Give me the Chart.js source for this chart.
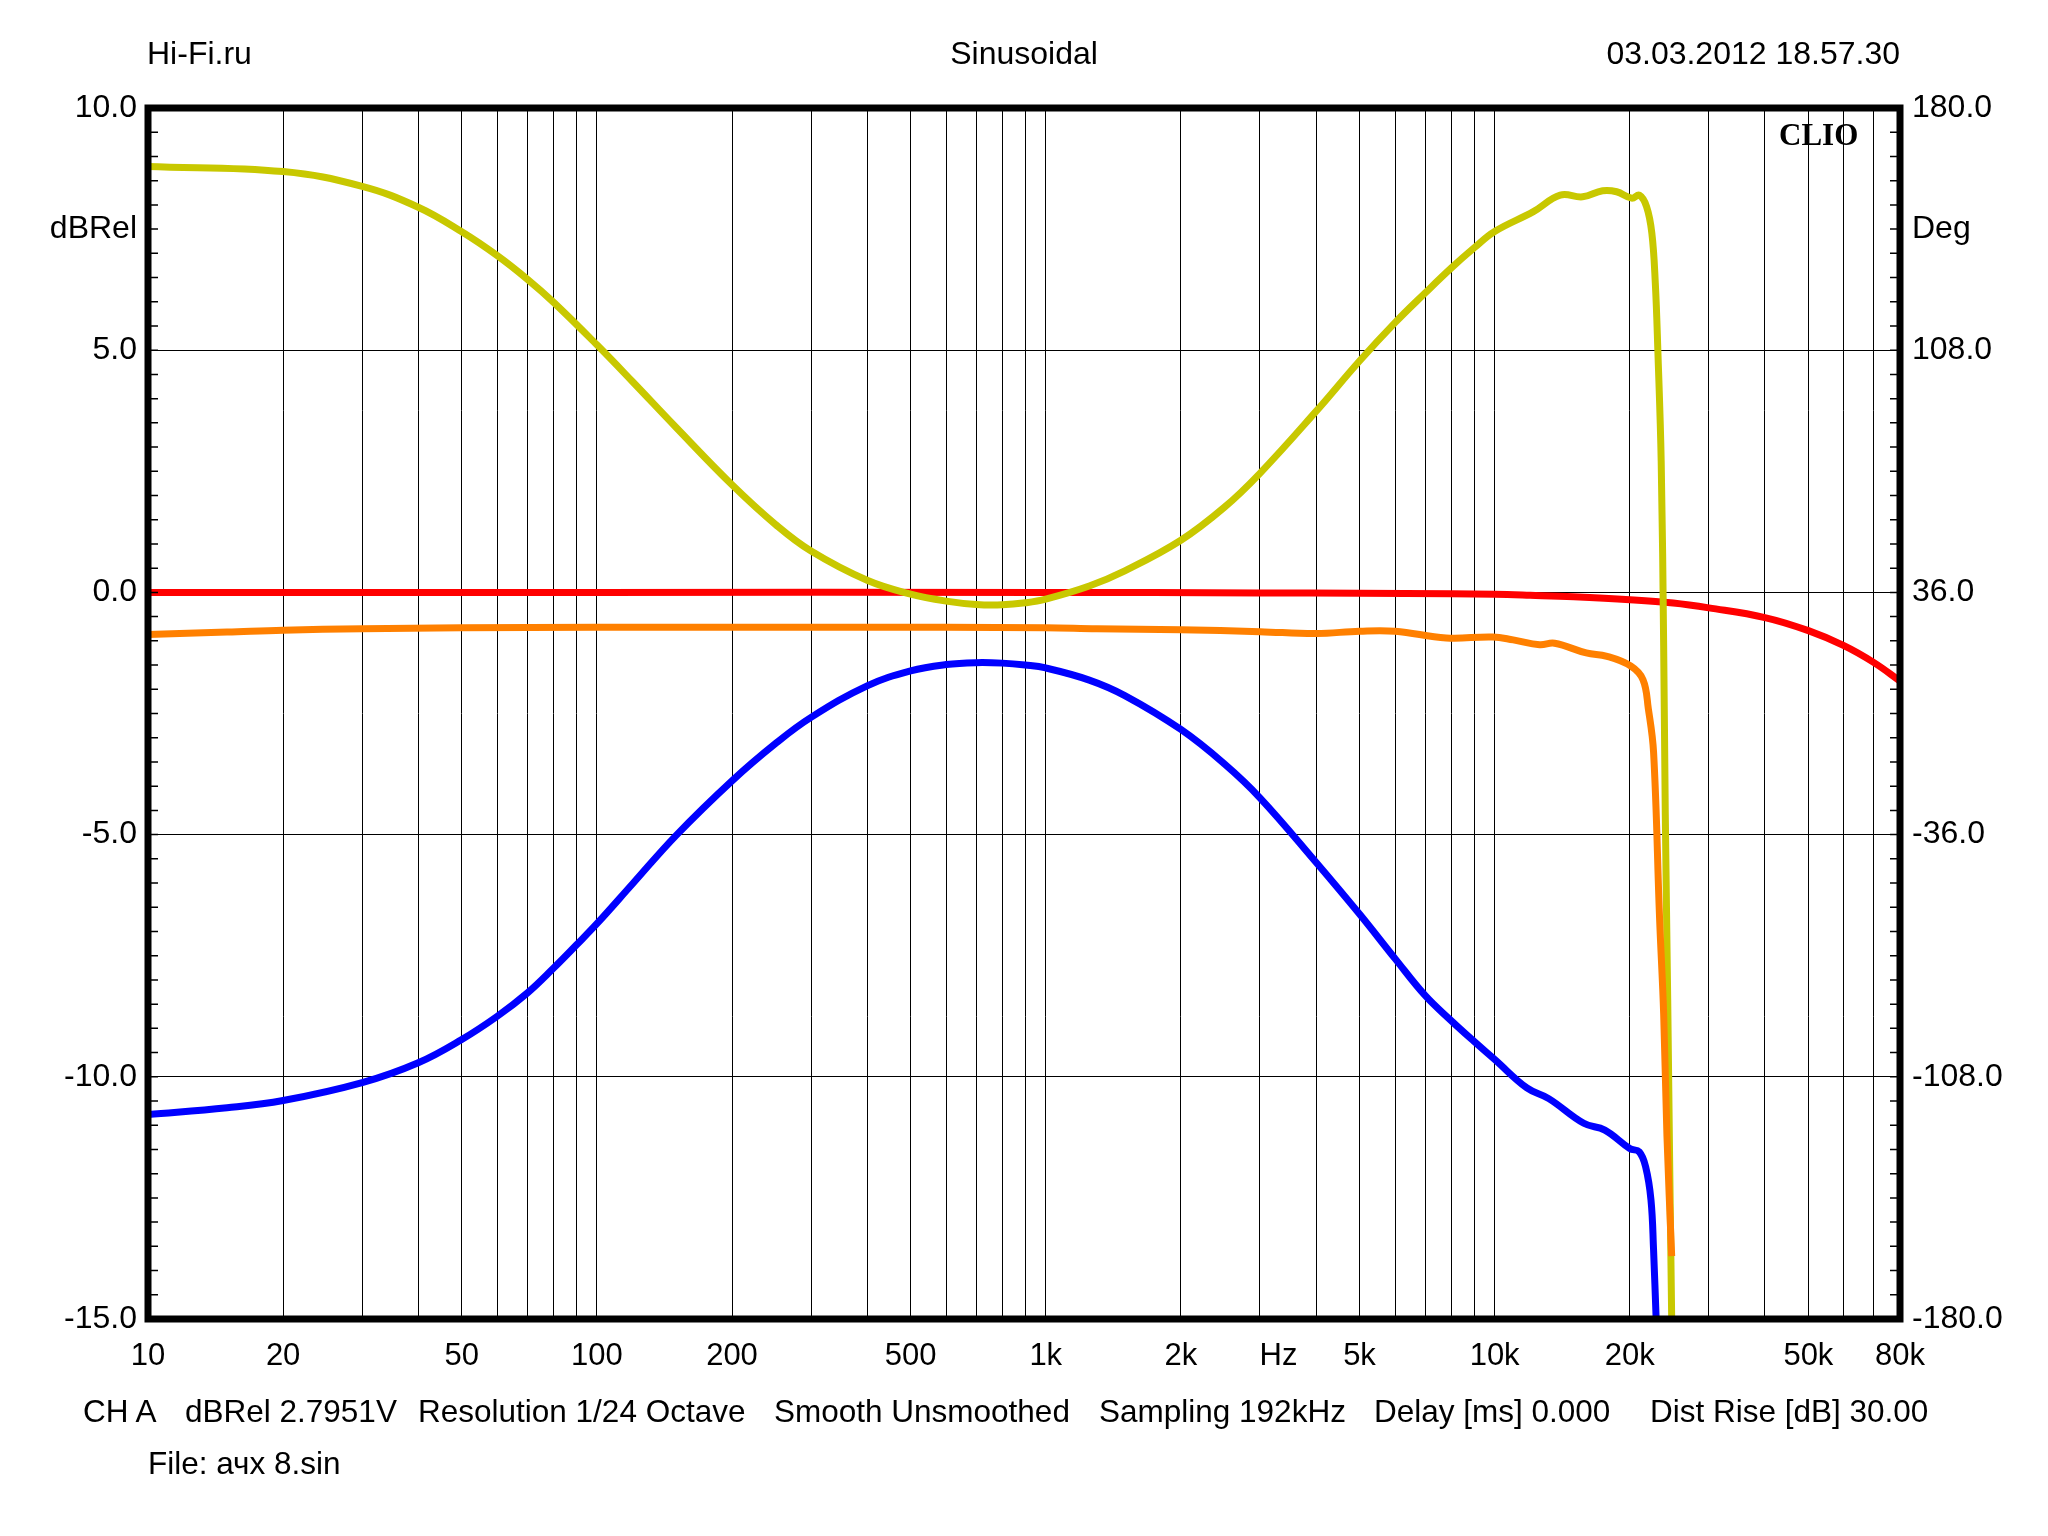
<!DOCTYPE html>
<html>
<head>
<meta charset="utf-8">
<title>Sinusoidal</title>
<script src="https://cdn.jsdelivr.net/npm/chart.js@4.4.1/dist/chart.umd.min.js"></script>
<style>
    body { margin: 0; background: #fff; }
    #wrap { position: relative; width: 2048px; height: 1536px; }
    #chart { position: absolute; left: 0; top: 0; }
    .txt {
        position: absolute;
        font-family: "Liberation Sans", Arial, sans-serif;
        font-size: 31.5px;
        line-height: 31px;
        color: #000;
        white-space: nowrap;
    }
    .head { font-size: 32px; }
    .clio {
        position: absolute;
        font-family: "Liberation Serif", "Times New Roman", serif;
        font-weight: bold;
        font-size: 31px;
        line-height: 31px;
        color: #000;
    }
</style>
</head>
<body>
<div id="wrap">
    <canvas id="chart" width="2048" height="1536"></canvas>

    <div class="txt head" style="left:147px; top:38px;">Hi-Fi.ru</div>
    <div class="txt head" style="left:0; width:2048px; text-align:center; top:38px;">Sinusoidal</div>
    <div class="txt head" style="right:148px; top:38px;">03.03.2012 18.57.30</div>
    <div class="clio" style="left:1779px; top:119px;">CLIO</div>

    <div class="txt" style="left:83px; top:1396px;">CH A</div>
    <div class="txt" style="left:185px; top:1396px;">dBRel 2.7951V</div>
    <div class="txt" style="left:418px; top:1396px;">Resolution 1/24 Octave</div>
    <div class="txt" style="left:774px; top:1396px;">Smooth Unsmoothed</div>
    <div class="txt" style="left:1099px; top:1396px;">Sampling 192kHz</div>
    <div class="txt" style="left:1374px; top:1396px;">Delay [ms] 0.000</div>
    <div class="txt" style="left:1650px; top:1396px;">Dist Rise [dB] 30.00</div>
    <div class="txt" style="left:148px; top:1448px;">File: ачх 8.sin</div>
</div>

<script>
// axis ticks
const xTickValues = [10, 20, 30, 40, 50, 60, 70, 80, 90,
    100, 200, 300, 400, 500, 600, 700, 800, 900,
    1000, 2000, 3000, 3300, 4000, 5000, 6000, 7000, 8000, 9000,
    10000, 20000, 30000, 40000, 50000, 60000, 70000, 80000];
const xTickLabels = {
    10: '10', 20: '20', 50: '50', 100: '100', 200: '200', 500: '500',
    1000: '1k', 2000: '2k', 3300: 'Hz', 5000: '5k', 10000: '10k',
    20000: '20k', 50000: '50k', 80000: '80k'
};
const dbTicks = [-15, -10, -5, 0, 5, 7.5, 10];
const degTicks = [-180, -108, -36, 36, 108, 144, 180];

// red trace (dBRel)
const redFreq = [10, 100, 1000, 3000, 5000, 8000, 10000, 12000, 15000, 20000,
    25000, 30000, 40000, 50000, 60000, 70000, 80000];
const redDb = [0, 0, 0, -0.01, -0.02, -0.03, -0.04, -0.06, -0.09, -0.15,
    -0.22, -0.32, -0.52, -0.79, -1.1, -1.45, -1.83];

// orange trace (dBRel)
const orangeFreq = [10, 15, 20, 30, 50, 100, 300, 600, 1000, 1300, 2000, 3000,
    4000, 5000, 6000, 7800, 9900, 11000, 12600, 13600, 16000, 17800, 20100,
    21400, 22000, 22600, 23300, 23800, 24200, 24800];
const orangeDb = [-0.87, -0.82, -0.78, -0.75, -0.73, -0.72, -0.72, -0.72, -0.73,
    -0.75, -0.77, -0.81, -0.85, -0.80, -0.80, -0.94, -0.92, -0.98, -1.08, -1.05,
    -1.25, -1.32, -1.52, -1.8, -2.4, -3.3, -6.7, -8.7, -11.2, -13.7];

// blue trace (dBRel)
const blueFreq = [10, 15, 20, 30, 40, 50, 60, 70, 80, 90, 100, 120, 150, 200,
    250, 300, 400, 500, 600, 700, 800, 900, 1000, 1250, 1500, 2000, 2500, 3000,
    4000, 5000, 6000, 7000, 8000, 9000, 10000, 11800, 13200, 15800, 17600, 20000,
    21000, 21700, 22300, 22600, 22900, 23000];
const blueDb = [-10.78, -10.64, -10.49, -10.12, -9.71, -9.23, -8.75, -8.27, -7.76,
    -7.28, -6.84, -6.02, -5.02, -3.89, -3.12, -2.58, -1.93, -1.62, -1.49, -1.45,
    -1.46, -1.50, -1.56, -1.81, -2.13, -2.83, -3.54, -4.24, -5.57, -6.64, -7.56,
    -8.32, -8.84, -9.27, -9.64, -10.23, -10.45, -10.96, -11.1, -11.48, -11.55,
    -11.86, -12.54, -13.58, -15.0, -15.4];

// yellow trace (Deg)
const yellowFreq = [10, 20, 30, 40, 50, 60, 70, 80, 100, 120, 150, 200, 250, 300,
    400, 500, 600, 700, 800, 900, 1000, 1250, 1500, 2000, 2500, 3000, 4000, 5000,
    6000, 7000, 8000, 9000, 10000, 12200, 14000, 15700, 17400, 18700, 20200,
    21000, 21800, 22400, 22800, 23100, 23500, 23800, 24000, 24300, 24800, 25000];
const yellowDeg = [162.6, 161.1, 156.7, 150.5, 143.2, 136.1, 129.1, 122.3, 109.6,
    98.7, 85.1, 68.0, 56.2, 48.3, 39.6, 35.5, 33.4, 32.4, 32.3, 32.9, 34.0, 37.9,
    42.4, 51.5, 61.3, 71.4, 89.8, 104.8, 116.2, 125.0, 132.4, 138.4, 143.3, 149.2,
    154.1, 153.6, 155.4, 155.1, 153.2, 154.1, 150.7, 142.8, 128, 108, 75, 20,
    -30, -85, -180, -200];

function pts(freqs, vals) {
    return freqs.map((f, i) => ({ x: f, y: vals[i] }));
}

const tickFont = { family: 'Liberation Sans, Arial, sans-serif', size: 31 };
const yTickFont = { family: 'Liberation Sans, Arial, sans-serif', size: 32 };

// frame and the small inner ticks on both value axes
const framePlugin = {
    id: 'frame',
    afterDraw(chart) {
        const c = chart.ctx;
        const a = chart.chartArea;
        const yl = chart.scales.y;
        const yr = chart.scales.y2;
        c.save();
        c.strokeStyle = '#000';
        c.lineWidth = 1.5;
        c.beginPath();
        for (let v = -15; v <= 10; v += 0.5) {
            const p = yl.getPixelForValue(v);
            c.moveTo(a.left, p);
            c.lineTo(a.left + 10, p);
        }
        for (let v = -180; v <= 180; v += 7.2) {
            const p = yr.getPixelForValue(v);
            c.moveTo(a.right - 10, p);
            c.lineTo(a.right, p);
        }
        c.stroke();
        c.lineWidth = 7;
        c.strokeRect(a.left, a.top, a.right - a.left, a.bottom - a.top);
        c.restore();
    }
};

const ctx = document.getElementById('chart').getContext('2d');

new Chart(ctx, {
    type: 'line',
    data: {
        datasets: [
            {
                label: 'blue',
                data: pts(blueFreq, blueDb),
                borderColor: '#0000ff',
                yAxisID: 'y',
                order: 1
            },
            {
                label: 'orange',
                data: pts(orangeFreq, orangeDb),
                borderColor: '#ff8000',
                yAxisID: 'y',
                order: 2
            },
            {
                label: 'yellow',
                data: pts(yellowFreq, yellowDeg),
                borderColor: '#c8c800',
                yAxisID: 'y2',
                order: 3
            },
            {
                label: 'red',
                data: pts(redFreq, redDb),
                borderColor: '#ff0000',
                yAxisID: 'y',
                order: 4
            }
        ]
    },
    options: {
        responsive: false,
        animation: false,
        layout: { padding: { top: 108, left: 0, right: 0, bottom: 0 } },
        elements: {
            point: { radius: 0 },
            line: { borderWidth: 7, tension: 0.4, fill: false }
        },
        plugins: {
            legend: { display: false },
            tooltip: { enabled: false }
        },
        scales: {
            x: {
                type: 'logarithmic',
                min: 10,
                max: 80000,
                afterBuildTicks: s => { s.ticks = xTickValues.map(v => ({ value: v })); },
                afterFit: s => { s.height = 217; },
                border: { display: false },
                grid: {
                    drawTicks: false,
                    lineWidth: 1,
                    color: c => (c.tick && c.tick.value === 3300) ? 'rgba(0,0,0,0)' : '#000'
                },
                ticks: {
                    autoSkip: false,
                    maxRotation: 0,
                    padding: 19,
                    color: '#000',
                    font: tickFont,
                    callback: v => xTickLabels[v] || ''
                }
            },
            y: {
                position: 'left',
                min: -15,
                max: 10,
                afterBuildTicks: s => { s.ticks = dbTicks.map(v => ({ value: v })); },
                afterFit: s => { s.width = 148; },
                border: { display: false },
                grid: {
                    drawTicks: false,
                    lineWidth: 1,
                    color: c => (c.tick && c.tick.value === 7.5) ? 'rgba(0,0,0,0)' : '#000'
                },
                ticks: {
                    padding: 11,
                    color: '#000',
                    font: yTickFont,
                    callback: v => v === 7.5 ? 'dBRel' : v.toFixed(1)
                }
            },
            y2: {
                position: 'right',
                min: -180,
                max: 180,
                afterBuildTicks: s => { s.ticks = degTicks.map(v => ({ value: v })); },
                afterFit: s => { s.width = 148; },
                border: { display: false },
                grid: { drawOnChartArea: false, drawTicks: false },
                ticks: {
                    padding: 12,
                    color: '#000',
                    font: yTickFont,
                    callback: v => v === 144 ? 'Deg' : v.toFixed(1)
                }
            }
        }
    },
    plugins: [framePlugin]
});
</script>
</body>
</html>
